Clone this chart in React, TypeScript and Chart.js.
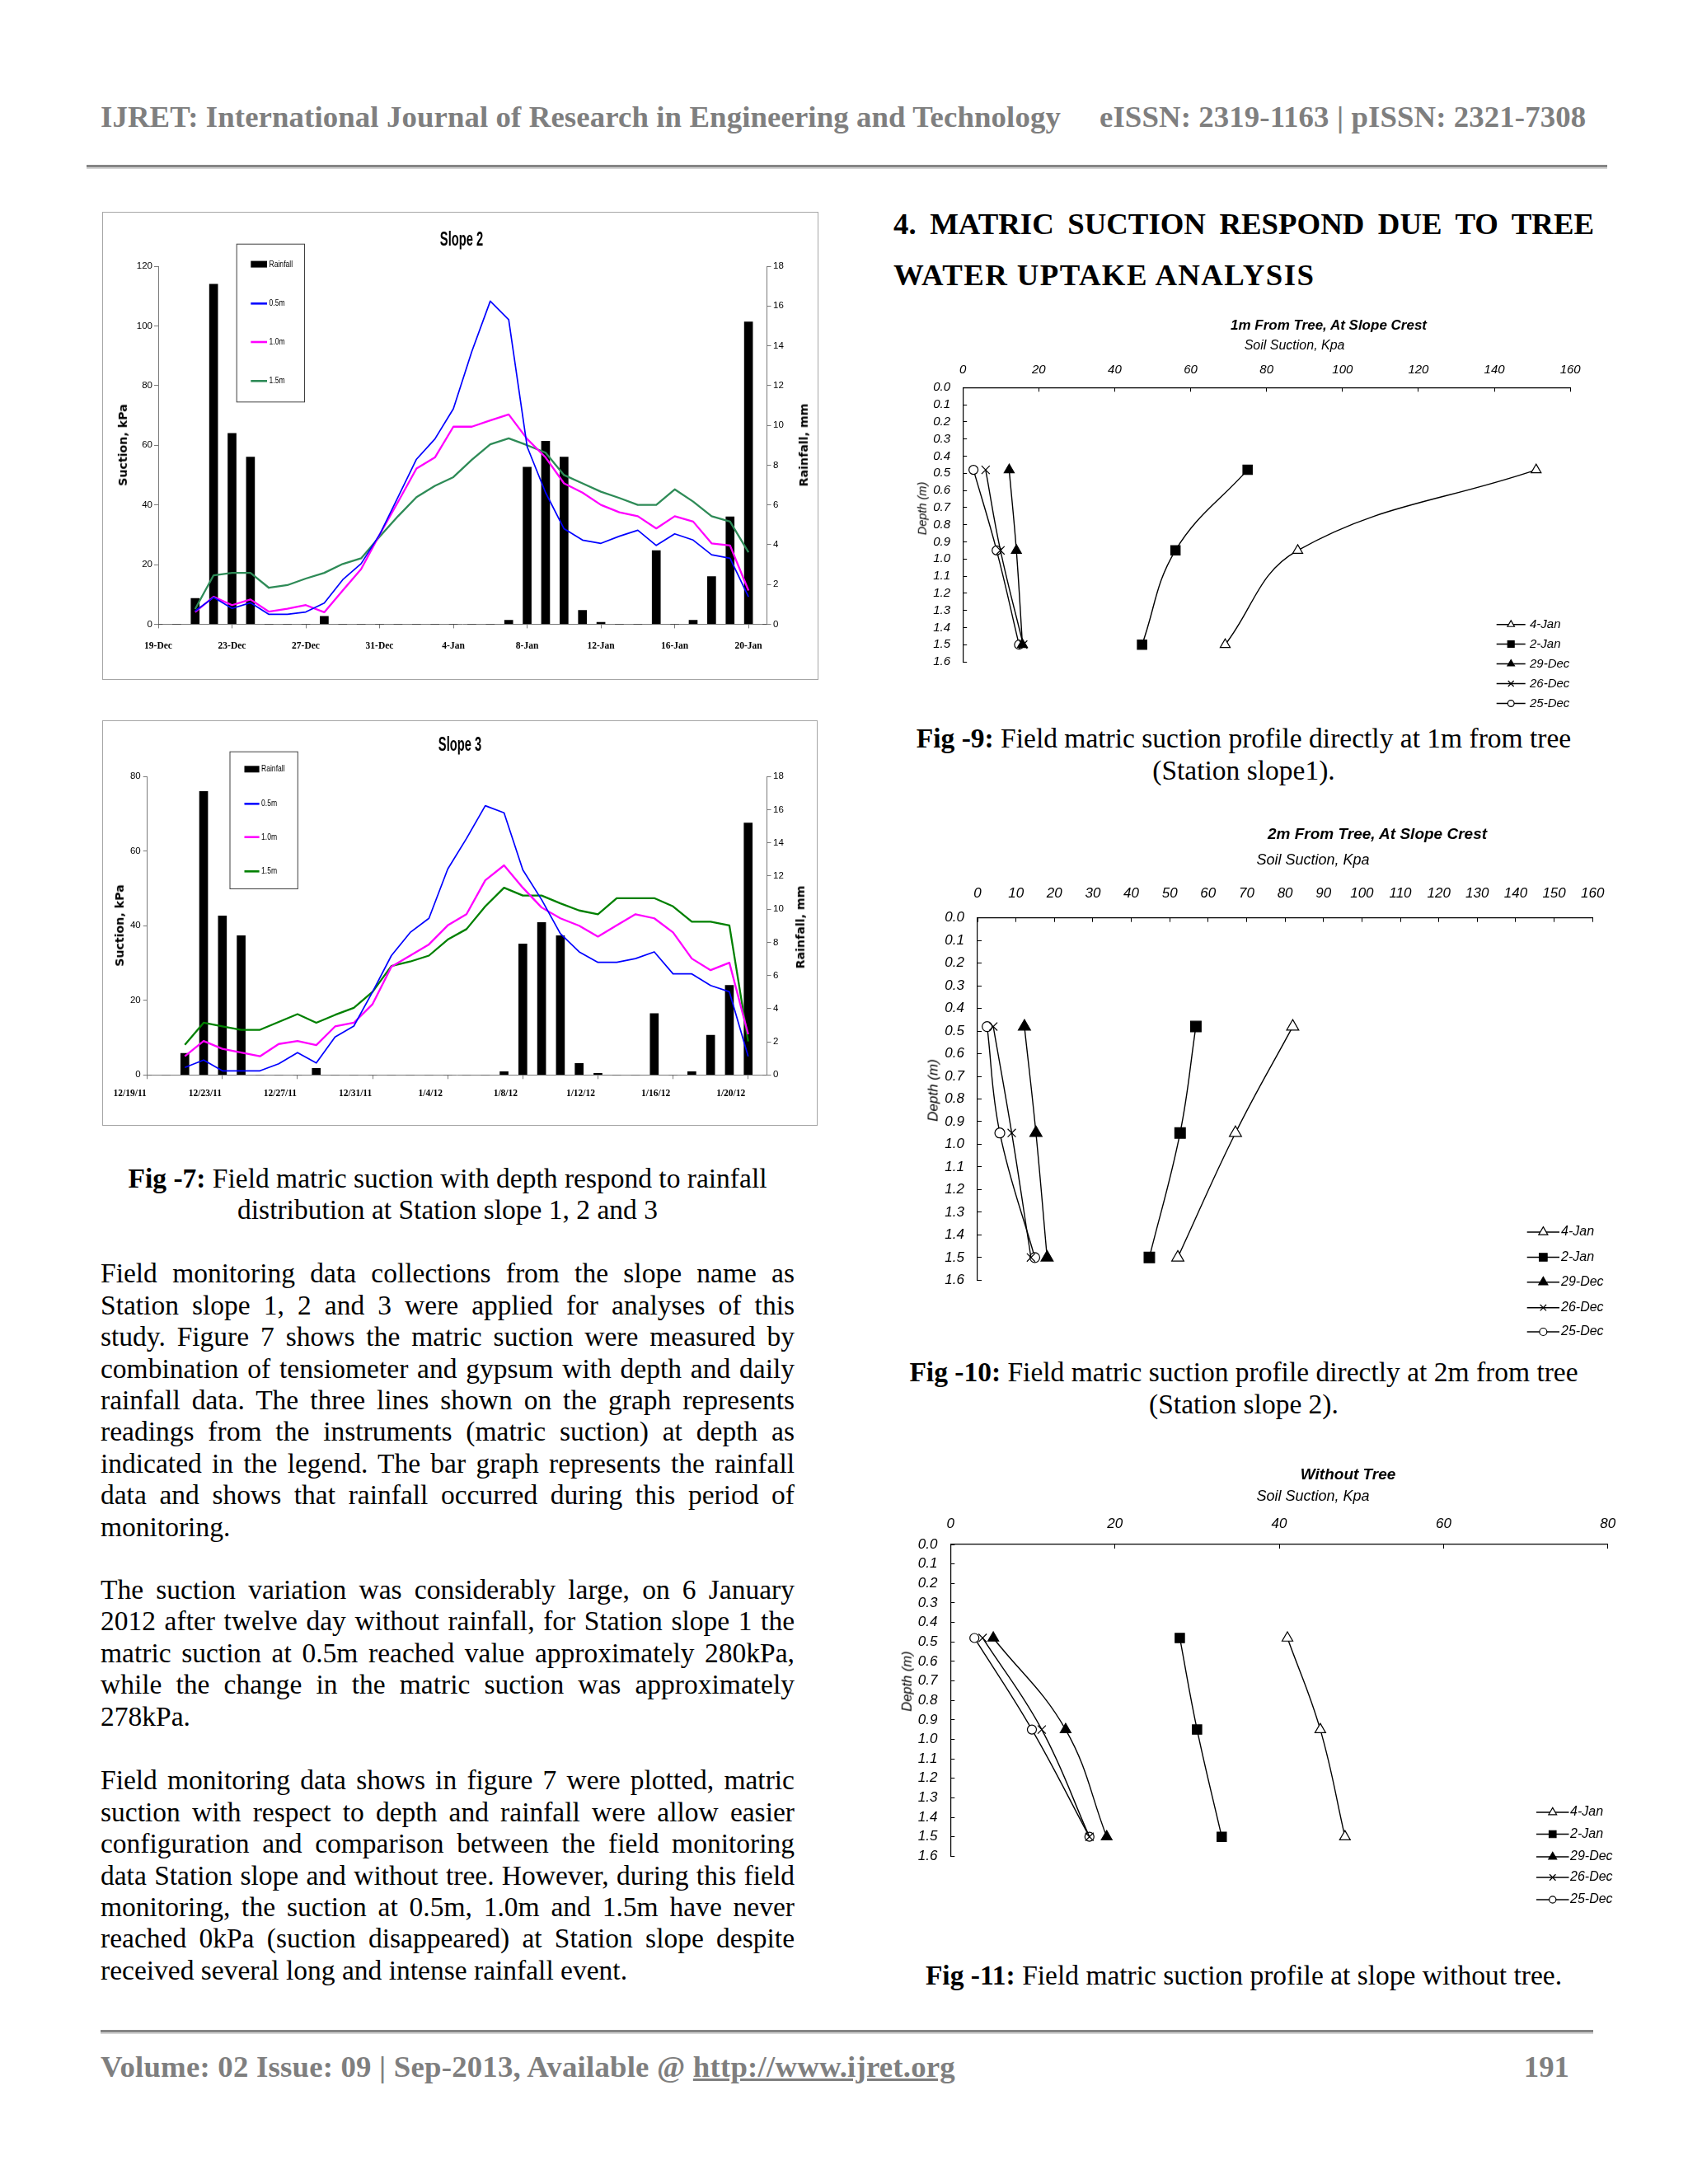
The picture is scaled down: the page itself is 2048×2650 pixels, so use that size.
import React, { useEffect, useRef } from 'react';
import { Chart, registerables } from 'chart.js';
import { drawPoint } from 'chart.js/helpers';

Chart.register(...registerables);

// ---------------- data ----------------
const slope2DayLabels = ['19-Dec','20-Dec','21-Dec','22-Dec','23-Dec','24-Dec','25-Dec','26-Dec','27-Dec','28-Dec','29-Dec','30-Dec','31-Dec','1-Jan','2-Jan','3-Jan','4-Jan','5-Jan','6-Jan','7-Jan','8-Jan','9-Jan','10-Jan','11-Jan','12-Jan','13-Jan','14-Jan','15-Jan','16-Jan','17-Jan','18-Jan','19-Jan','20-Jan','21-Jan'];
const slope3DayLabels = ['12/19/11','12/20/11','12/21/11','12/22/11','12/23/11','12/24/11','12/25/11','12/26/11','12/27/11','12/28/11','12/29/11','12/30/11','12/31/11','1/1/12','1/2/12','1/3/12','1/4/12','1/5/12','1/6/12','1/7/12','1/8/12','1/9/12','1/10/12','1/11/12','1/12/12','1/13/12','1/14/12','1/15/12','1/16/12','1/17/12','1/18/12','1/19/12','1/20/12','1/21/12'];

const rainfallMm = [0,0,1.3,17.1,9.6,8.4,0,0,0,0.4,0,0,0,0,0,0,0,0,0,0.2,7.9,9.2,8.4,0.7,0.1,0,0,3.7,0,0.2,2.4,5.4,15.2,0];

const slope2Suction05 = [null,null,4.4,9.0,5.3,7.2,3.3,3.3,4.1,7.1,14.9,20.3,30,42.6,55.3,62.1,72.2,91.4,108.3,102.1,59.5,44.1,32.0,28.2,27.1,29.5,31.5,26.4,30.3,28.2,23.3,22.1,9.2,null];
const slope2Suction10 = [null,null,4.1,9.2,6.4,8.3,4.2,5.2,6.4,4.0,11.3,18.5,30,41,52.2,55.9,66.2,66.2,68.3,70.3,62.1,55.9,47.2,44.1,40.0,37.5,36.2,32.1,36.2,34.4,27.1,26.4,11.3,null];
const slope2Suction15 = [null,null,5.1,16.4,17.2,17.2,12.2,13.1,15.3,17.2,20.2,22.1,29.3,36.2,42.6,46.4,49.3,55.1,60.3,62.3,60.0,57.5,50.0,47.2,44.4,42.3,40.0,40.0,45.2,41.1,36.2,34.4,24.1,null];

const slope3Suction05 = [null,null,2.0,4.0,1.1,1.1,1.1,3.0,6.0,3.2,10.2,13.1,22.3,32.0,38.2,42.0,55.2,63.4,72.2,70.3,55.0,47.0,37.9,33.0,30.2,30.2,31.2,33.0,27.1,27.1,24.0,22.3,5.0,null];
const slope3Suction10 = [null,null,5.0,9.1,7.0,6.0,5.0,8.3,9.1,8.0,13.0,14.0,19.0,29.0,32.0,35.0,40.1,43.1,52.2,56.2,50.2,44.9,42.0,40.0,37.1,40.1,43.1,42.0,38.2,31.2,28.1,30.1,10.9,null];
const slope3Suction15 = [null,null,8.1,14.0,13.0,12.1,12.1,14.2,16.3,14.0,16.1,18.0,22.3,29.2,30.4,32.0,36.3,39.1,45.2,50.2,48.1,48.1,46.0,44.1,43.1,47.4,47.4,47.4,45.2,41.1,41.1,40.1,9.0,null];

const profileDates = ['4-Jan', '2-Jan', '29-Dec', '26-Dec', '25-Dec'];
const profileDepths = [0.48, 0.95, 1.5];

const fig9Jan4 = [151.0, 88.2, 69.1];
const fig9Jan2 = [75.0, 56.0, 47.2];
const fig9Dec29 = [12.2, 14.1, 15.7];
const fig9Dec26 = [6.0, 9.9, 15.9];
const fig9Dec25 = [2.8, 8.9, 14.8];

const fig10Jan4 = [82.0, 67.1, 52.1];
const fig10Jan2 = [56.8, 52.7, 44.7];
const fig10Dec29 = [12.2, 15.2, 18.1];
const fig10Dec26 = [4.1, 8.9, 13.9];
const fig10Dec25 = [2.5, 5.8, 14.9];

const fig11Jan4 = [41.0, 45.0, 48.0];
const fig11Jan2 = [27.9, 30.0, 33.0];
const fig11Dec29 = [5.2, 14.0, 19.0];
const fig11Dec26 = [3.9, 11.1, 16.9];
const fig11Dec25 = [2.9, 9.9, 16.9];

// ---------------- text ----------------
const headerLeft = 'IJRET: International Journal of Research in Engineering and Technology';
const headerRight = 'eISSN: 2319-1163 | pISSN: 2321-7308';

const para1 = [
  'Field monitoring data collections from the slope name as',
  'Station slope 1, 2 and 3 were applied for analyses of this',
  'study.  Figure 7 shows the matric suction were measured by',
  'combination of tensiometer and gypsum with depth and daily',
  'rainfall data. The three lines shown on the graph represents',
  'readings from the instruments (matric suction) at depth as',
  'indicated in the legend. The bar graph represents the rainfall',
  'data and shows that rainfall occurred during this period of',
  'monitoring.',
];
const para2 = [
  'The suction variation was considerably large, on 6 January',
  '2012 after twelve day without rainfall, for Station slope 1 the',
  'matric suction at 0.5m reached value approximately 280kPa,',
  'while the change in the matric suction was approximately',
  '278kPa.',
];
const para3 = [
  'Field monitoring data shows in figure 7 were plotted, matric',
  'suction with respect to depth and rainfall were allow easier',
  'configuration and comparison between the field monitoring',
  'data Station slope and without tree. However, during this field',
  'monitoring, the suction at 0.5m, 1.0m and 1.5m have never',
  'reached 0kPa (suction disappeared) at Station slope despite',
  'received several long and intense rainfall event.',
];

// ---------------- fonts ----------------
const SERIF = "'Liberation Serif', 'Times New Roman', serif";
const SANS = "'Liberation Sans', Arial, sans-serif";
const WIDE = "'DejaVu Sans', Verdana, sans-serif";

// ---------------- helpers ----------------
const fixW = (w: number) => (s: any) => {
  s.width = w; s.paddingLeft = 0; s.paddingRight = 0; s.paddingTop = 0; s.paddingBottom = 0;
};
const fixH = (h: number) => (s: any) => {
  s.height = h; s.paddingLeft = 0; s.paddingRight = 0; s.paddingTop = 0; s.paddingBottom = 0;
};

function legendPlugin(spec: any) {
  return {
    id: 'pageLegend',
    afterDraw(chart: any) {
      const ctx = chart.ctx;
      ctx.save();
      if (spec.box) {
        ctx.strokeStyle = '#404040';
        ctx.lineWidth = 1;
        ctx.strokeRect(spec.box.x + 0.5, spec.box.y + 0.5, spec.box.w, spec.box.h);
      }
      spec.items.forEach((it: any) => {
        const ds = chart.data.datasets[it.ds];
        if (ds.type === 'bar') {
          ctx.fillStyle = ds.backgroundColor;
          ctx.fillRect(spec.x1, it.y - spec.barH / 2, spec.x2 - spec.x1, spec.barH);
        } else {
          ctx.strokeStyle = ds.borderColor;
          ctx.lineWidth = spec.lineW;
          ctx.beginPath();
          ctx.moveTo(spec.x1, it.y);
          ctx.lineTo(spec.x2, it.y);
          ctx.stroke();
          if (spec.markers) {
            ctx.fillStyle = ds.pointBackgroundColor;
            ctx.strokeStyle = ds.pointBorderColor;
            ctx.lineWidth = ds.pointBorderWidth;
            drawPoint(ctx, {
              pointStyle: ds.pointStyle, rotation: 0,
              radius: ds.pointRadius * spec.markerScale, borderWidth: ds.pointBorderWidth,
            } as any, (spec.x1 + spec.x2) / 2, it.y);
          }
        }
        ctx.save();
        ctx.translate(spec.textX, it.y + (spec.textDy || 0));
        ctx.scale(spec.textScaleX || 1, 1);
        ctx.font = spec.font;
        ctx.textBaseline = 'middle';
        ctx.textAlign = 'left';
        ctx.fillStyle = '#000';
        ctx.fillText(ds.label, 0, 0);
        ctx.restore();
      });
      ctx.restore();
    },
  };
}

function slopeConfig(s: any) {
  const pts = (arr: (number | null)[]) =>
    arr.map((v, i) => (v == null ? null : { x: i, y: v })).filter((p) => p !== null);
  const W = s.box.w, H = s.box.h, P = s.plot;
  const axisGrey = '#7a7a7a';
  const numFont = { family: SANS, size: 11.5 };
  return {
    type: 'line',
    data: {
      datasets: [
        { type: 'line', label: '0.5m', data: pts(s.s05), borderColor: '#0000ff', borderWidth: 1.7, pointRadius: 0, yAxisID: 'y', order: 1, tension: 0, borderJoinStyle: 'round' },
        { type: 'line', label: '1.0m', data: pts(s.s10), borderColor: '#ff00ff', borderWidth: 2.3, pointRadius: 0, yAxisID: 'y', order: 2, tension: 0, borderJoinStyle: 'round' },
        { type: 'line', label: '1.5m', data: pts(s.s15), borderColor: s.green, borderWidth: 2.3, pointRadius: 0, yAxisID: 'y', order: 3, tension: 0, borderJoinStyle: 'round' },
        { type: 'bar', label: 'Rainfall', data: rainfallMm.map((v, i) => ({ x: i, y: v })), backgroundColor: '#000', borderWidth: 0, barThickness: 10, yAxisID: 'y1', order: 4 },
      ],
    },
    options: {
      animation: false,
      responsive: false,
      maintainAspectRatio: false,
      events: [],
      layout: { padding: { top: P.t, left: 0, right: 0, bottom: 0 } },
      plugins: { legend: { display: false }, tooltip: { enabled: false }, title: { display: false } },
      scales: {
        x: {
          type: 'linear', min: 0, max: s.labels.length - 1, offset: false,
          ticks: {
            stepSize: 4, includeBounds: false, autoSkip: false, maxRotation: 0, minRotation: 0,
            padding: s.xPad, labelOffset: s.labelOffset,
            font: { family: SERIF, size: 11.5, weight: 'bold' }, color: '#000',
            callback: (v: any) => (s.labels[v] !== undefined ? s.labels[v] : ''),
          },
          grid: { drawOnChartArea: false, drawTicks: true, tickLength: 5, tickColor: axisGrey, offset: false },
          border: { display: true, color: axisGrey, width: 1 },
          afterFit: fixH(H - P.b),
        },
        y: {
          position: 'left', min: 0, max: s.leftMax,
          ticks: { stepSize: 20, padding: s.yPad, font: numFont, color: '#000' },
          grid: { drawOnChartArea: false, drawTicks: true, tickLength: 5, tickColor: axisGrey },
          border: { display: true, color: axisGrey, width: 1 },
          afterFit: fixW(P.l),
        },
        y1: {
          position: 'right', min: 0, max: 18,
          ticks: { stepSize: 2, padding: 2.5, font: numFont, color: '#000' },
          grid: { drawOnChartArea: false, drawTicks: true, tickLength: 5, tickColor: axisGrey },
          border: { display: true, color: axisGrey, width: 1 },
          afterFit: fixW(W - P.r),
        },
      },
    },
    plugins: [legendPlugin(s.legend)],
  };
}

const markerStyles = [
  { style: 'triangle', fill: '#ffffff' },
  { style: 'rect', fill: '#000000' },
  { style: 'triangle', fill: '#000000' },
  { style: 'crossRot', fill: '#000000' },
  { style: 'circle', fill: '#ffffff' },
];

function profileConfig(p: any) {
  const W = p.box.w, H = p.box.h, P = p.plot;
  const tickFont = { family: SANS, size: p.fs, style: 'italic' };
  return {
    type: 'line',
    data: {
      datasets: p.series.map((vals: number[], k: number) => ({
        label: profileDates[k],
        data: vals.map((x, i) => ({ x, y: profileDepths[i] })),
        borderColor: '#000', borderWidth: 1.4, tension: 0.4,
        pointStyle: markerStyles[k].style, pointRadius: p.radii[k],
        pointBackgroundColor: markerStyles[k].fill, pointBorderColor: '#000', pointBorderWidth: 1.2,
        clip: false,
      })),
    },
    options: {
      animation: false,
      responsive: false,
      maintainAspectRatio: false,
      events: [],
      layout: { padding: { top: 0, left: 0, right: W - P.r, bottom: H - P.b } },
      plugins: { legend: { display: false }, tooltip: { enabled: false }, title: { display: false } },
      scales: {
        x: {
          type: 'linear', position: 'top', min: 0, max: p.xMax,
          ticks: { stepSize: p.xStep, padding: p.xPad, font: tickFont, color: '#000', maxRotation: 0, autoSkip: false },
          grid: { drawOnChartArea: false, drawTicks: true, tickLength: -5, tickColor: '#000', tickWidth: 1 },
          border: { display: true, color: '#000', width: 1.2 },
          afterFit: fixH(P.t),
        },
        y: {
          type: 'linear', reverse: true, min: 0, max: 1.6,
          ticks: { stepSize: 0.1, padding: p.yPad, font: tickFont, color: '#000', autoSkip: false, callback: (v: any) => Number(v).toFixed(1) },
          grid: { drawOnChartArea: false, drawTicks: true, tickLength: -5, tickColor: '#000', tickWidth: 1 },
          border: { display: true, color: '#000', width: 1.2 },
          afterFit: fixW(P.l),
        },
      },
    },
    plugins: [legendPlugin(p.legend)],
  };
}

function ChartCanvas({ box, make }: { box: any; make: () => any }) {
  const ref = useRef<HTMLCanvasElement>(null);
  useEffect(() => {
    const chart = new Chart(ref.current as HTMLCanvasElement, make());
    return () => chart.destroy();
  }, []);
  return (
    <canvas
      ref={ref}
      width={box.w}
      height={box.h}
      style={{ position: 'absolute', left: box.x, top: box.y, width: box.w, height: box.h }}
    />
  );
}

// text line positioned by baseline (Liberation metrics, line-height = font size)
function Line({ x, w, base, fs, align = 'left', justify = false, bold = false, color = '#000', ls = 0, children }: any) {
  return (
    <div
      style={{
        position: 'absolute', left: x, top: base - 0.8375 * fs, width: w, height: fs,
        fontSize: fs, lineHeight: `${fs}px`, fontWeight: bold ? 'bold' : 'normal', color,
        textAlign: justify ? 'justify' : align, textAlignLast: justify ? 'justify' : align,
        fontFamily: SERIF, letterSpacing: ls,
      } as any}
    >
      {children}
    </div>
  );
}

function Ctr({ cx, cy, fs, family, bold = false, italic = false, rot = 0, sx = 1, color = '#000', children }: any) {
  return (
    <div
      style={{
        position: 'absolute', left: cx, top: cy, whiteSpace: 'nowrap', fontSize: fs, lineHeight: `${fs}px`,
        fontFamily: family, fontWeight: bold ? 'bold' : 'normal', fontStyle: italic ? 'italic' : 'normal', color,
        transform: `translate(-50%, -50%) rotate(${rot}deg) scaleX(${sx})`,
      }}
    >
      {children}
    </div>
  );
}

// ---------------- chart specs ----------------
const slope2Spec = {
  box: { x: 124, y: 257, w: 869, h: 568 },
  plot: { l: 68, t: 66, r: 806.5, b: 500.4 },
  labels: slope2DayLabels, s05: slope2Suction05, s10: slope2Suction10, s15: slope2Suction15,
  leftMax: 120, green: '#2e8b57', labelOffset: 0, xPad: 15, yPad: 2,
  legend: {
    box: { x: 162.7, y: 38.7, w: 82.3, h: 191.6 },
    items: [{ ds: 3, y: 63.6 }, { ds: 0, y: 111.3 }, { ds: 1, y: 158 }, { ds: 2, y: 205.3 }],
    x1: 180.3, x2: 200, textX: 202.5, barH: 8, lineW: 2.6, font: `11px ${SANS}`, textScaleX: 0.78, markers: false,
  },
};
const slope3Spec = {
  box: { x: 124, y: 874, w: 868, h: 492 },
  plot: { l: 54.7, t: 68.3, r: 806.5, b: 430.3 },
  labels: slope3DayLabels, s05: slope3Suction05, s10: slope3Suction10, s15: slope3Suction15,
  leftMax: 80, green: '#008000', labelOffset: -21, xPad: 11, yPad: 3,
  legend: {
    box: { x: 154.5, y: 37.7, w: 82.3, h: 166.3 },
    items: [{ ds: 3, y: 59.3 }, { ds: 0, y: 101.3 }, { ds: 1, y: 141.7 }, { ds: 2, y: 183.3 }],
    x1: 172.5, x2: 190.6, textX: 193, barH: 8, lineW: 2.6, font: `11px ${SANS}`, textScaleX: 0.78, markers: false,
  },
};

const fig9Spec = {
  box: { x: 1082, y: 375, w: 853, h: 495 },
  plot: { l: 86.2, t: 95.3, r: 823.2, b: 428 },
  series: [fig9Jan4, fig9Jan2, fig9Dec29, fig9Dec26, fig9Dec25],
  radii: [7, 8, 7, 7, 5.5], xMax: 160, xStep: 20, fs: 15, xPad: 17.3, yPad: 20.2,
  legend: {
    items: [{ ds: 0, y: 382.8 }, { ds: 1, y: 406.5 }, { ds: 2, y: 430.5 }, { ds: 3, y: 454.5 }, { ds: 4, y: 478.5 }],
    x1: 733.7, x2: 768.7, textX: 774, lineW: 1.5, font: `italic 15px ${SANS}`, markers: true, markerScale: 0.7,
  },
};
const fig10Spec = {
  box: { x: 1082, y: 990, w: 883, h: 645 },
  plot: { l: 104, t: 123.7, r: 850.2, b: 563.3 },
  series: [fig10Jan4, fig10Jan2, fig10Dec29, fig10Dec26, fig10Dec25],
  radii: [8.5, 9, 8.5, 7, 6], xMax: 160, xStep: 10, fs: 17, xPad: 23.8, yPad: 21,
  legend: {
    items: [{ ds: 0, y: 505 }, { ds: 1, y: 535.5 }, { ds: 2, y: 565.7 }, { ds: 3, y: 596.7 }, { ds: 4, y: 626 }],
    x1: 770.7, x2: 810, textX: 812, lineW: 1.5, font: `italic 16px ${SANS}`, markers: true, markerScale: 0.75,
  },
};
const fig11Spec = {
  box: { x: 1082, y: 1770, w: 878, h: 555 },
  plot: { l: 71.3, t: 104, r: 876.7, b: 482.3 },
  series: [fig11Jan4, fig11Jan2, fig11Dec29, fig11Dec26, fig11Dec25],
  radii: [7.5, 8, 7.5, 7, 5.5], xMax: 80, xStep: 20, fs: 17, xPad: 19.4, yPad: 20.8,
  legend: {
    items: [{ ds: 0, y: 429 }, { ds: 1, y: 455.5 }, { ds: 2, y: 483 }, { ds: 3, y: 508 }, { ds: 4, y: 535 }],
    x1: 782, x2: 821.5, textX: 823, lineW: 1.5, font: `italic 16px ${SANS}`, markers: true, markerScale: 0.75,
  },
};

// ---------------- page ----------------
export default function App() {
  const grey = '#7f7f7f';
  const bodyFs = 33.5;
  const lh = 38.4;
  const colL = 122, colLW = 842;
  const colR = 1084, colRW = 850;
  const renderPara = (lines: string[], base: number) =>
    lines.map((t, i) => (
      <Line key={t} x={colL} w={colLW} base={base + i * lh} fs={bodyFs} justify={i < lines.length - 1}>
        {t}
      </Line>
    ));

  return (
    <div
      style={{
        position: 'absolute', left: 0, top: 0, width: 2048, height: 2650, background: '#ffffff',
        overflow: 'hidden', fontFamily: SERIF, color: '#000',
      }}
    >
      {/* header */}
      <Line x={122} w={1200} base={154.5} fs={36.8} bold color={grey} ls={0.1}>{headerLeft}</Line>
      <Line x={1334} w={620} base={154.5} fs={36.8} bold color={grey} ls={0.1}>{headerRight}</Line>
      <div style={{ position: 'absolute', left: 105, top: 200, width: 1845, height: 3, background: '#858585' }} />
      <div style={{ position: 'absolute', left: 105, top: 203, width: 1845, height: 2, background: '#d4d4d4' }} />

      {/* left column charts */}
      <div style={{ position: 'absolute', left: 124, top: 257, width: 867, height: 566, border: '1px solid #a6a6a6' }} />
      <ChartCanvas box={slope2Spec.box} make={() => slopeConfig(slope2Spec)} />
      <Ctr cx={560} cy={289.8} fs={23} family={SANS} bold sx={0.64}>Slope 2</Ctr>
      <Ctr cx={149} cy={540} fs={14.2} family={WIDE} bold rot={-90}>Suction, kPa</Ctr>
      <Ctr cx={974.5} cy={540} fs={14.2} family={WIDE} bold rot={-90}>Rainfall, mm</Ctr>

      <div style={{ position: 'absolute', left: 124, top: 874, width: 866, height: 490, border: '1px solid #a6a6a6' }} />
      <ChartCanvas box={slope3Spec.box} make={() => slopeConfig(slope3Spec)} />
      <Ctr cx={558} cy={902.7} fs={23} family={SANS} bold sx={0.64}>Slope 3</Ctr>
      <Ctr cx={145.4} cy={1123} fs={14.2} family={WIDE} bold rot={-90}>Suction, kPa</Ctr>
      <Ctr cx={970.5} cy={1125} fs={14.2} family={WIDE} bold rot={-90}>Rainfall, mm</Ctr>

      {/* Fig 7 caption */}
      <Line x={colL} w={colLW} base={1441} fs={bodyFs} align="center">
        <b>Fig -7:</b> Field matric suction with depth respond to rainfall
      </Line>
      <Line x={colL} w={colLW} base={1479.5} fs={bodyFs} align="center">
        distribution at Station slope 1, 2 and 3
      </Line>

      {renderPara(para1, 1556.5)}
      {renderPara(para2, 1940)}
      {renderPara(para3, 2171.5)}

      {/* right column heading */}
      <Line x={colR} w={colRW} base={284.5} fs={36.8} bold justify>4. MATRIC SUCTION RESPOND DUE TO TREE</Line>
      <Line x={colR} w={colRW} base={347} fs={36.8} bold ls={1.4}>WATER UPTAKE ANALYSIS</Line>

      {/* Fig 9 */}
      <ChartCanvas box={fig9Spec.box} make={() => profileConfig(fig9Spec)} />
      <Ctr cx={1612} cy={394} fs={17} family={SANS} bold italic>1m From Tree, At Slope Crest</Ctr>
      <Ctr cx={1570.6} cy={419} fs={16} family={SANS} italic>Soil Suction, Kpa</Ctr>
      <Ctr cx={1118.6} cy={616.7} fs={14.5} family={SANS} italic rot={-90}>Depth (m)</Ctr>
      <Line x={colR} w={colRW} base={907} fs={bodyFs} align="center">
        <b>Fig -9:</b> Field matric suction profile directly at 1m from tree
      </Line>
      <Line x={colR} w={colRW} base={946} fs={bodyFs} align="center">(Station slope1).</Line>

      {/* Fig 10 */}
      <ChartCanvas box={fig10Spec.box} make={() => profileConfig(fig10Spec)} />
      <Ctr cx={1671} cy={1011} fs={19} family={SANS} bold italic>2m From Tree, At Slope Crest</Ctr>
      <Ctr cx={1593} cy={1043} fs={18} family={SANS} italic>Soil Suction, Kpa</Ctr>
      <Ctr cx={1132} cy={1322.6} fs={17} family={SANS} italic rot={-90}>Depth (m)</Ctr>
      <Line x={colR} w={colRW} base={1676} fs={bodyFs} align="center">
        <b>Fig -10:</b> Field matric suction profile directly at 2m from tree
      </Line>
      <Line x={colR} w={colRW} base={1715} fs={bodyFs} align="center">(Station slope 2).</Line>

      {/* Fig 11 */}
      <ChartCanvas box={fig11Spec.box} make={() => profileConfig(fig11Spec)} />
      <Ctr cx={1635.6} cy={1788} fs={19} family={SANS} bold italic>Without Tree</Ctr>
      <Ctr cx={1593} cy={1815.4} fs={18} family={SANS} italic>Soil Suction, Kpa</Ctr>
      <Ctr cx={1100} cy={2040} fs={16.5} family={SANS} italic rot={-90}>Depth (m)</Ctr>
      <Line x={colR} w={colRW} base={2408} fs={bodyFs} align="center">
        <b>Fig -11:</b> Field matric suction profile at slope without tree.
      </Line>

      {/* footer */}
      <div style={{ position: 'absolute', left: 122, top: 2463, width: 1811, height: 3, background: '#858585' }} />
      <div style={{ position: 'absolute', left: 122, top: 2466, width: 1811, height: 2, background: '#d4d4d4' }} />
      <Line x={122} w={1200} base={2521} fs={36.8} bold color={grey} ls={0.2}>
        Volume: 02 Issue: 09 | Sep-2013, Available @ <span style={{ textDecoration: 'underline' }}>http://www.ijret.org</span>
      </Line>
      <Line x={1704} w={200} base={2521} fs={36.8} bold color={grey} align="right">191</Line>
    </div>
  );
}
